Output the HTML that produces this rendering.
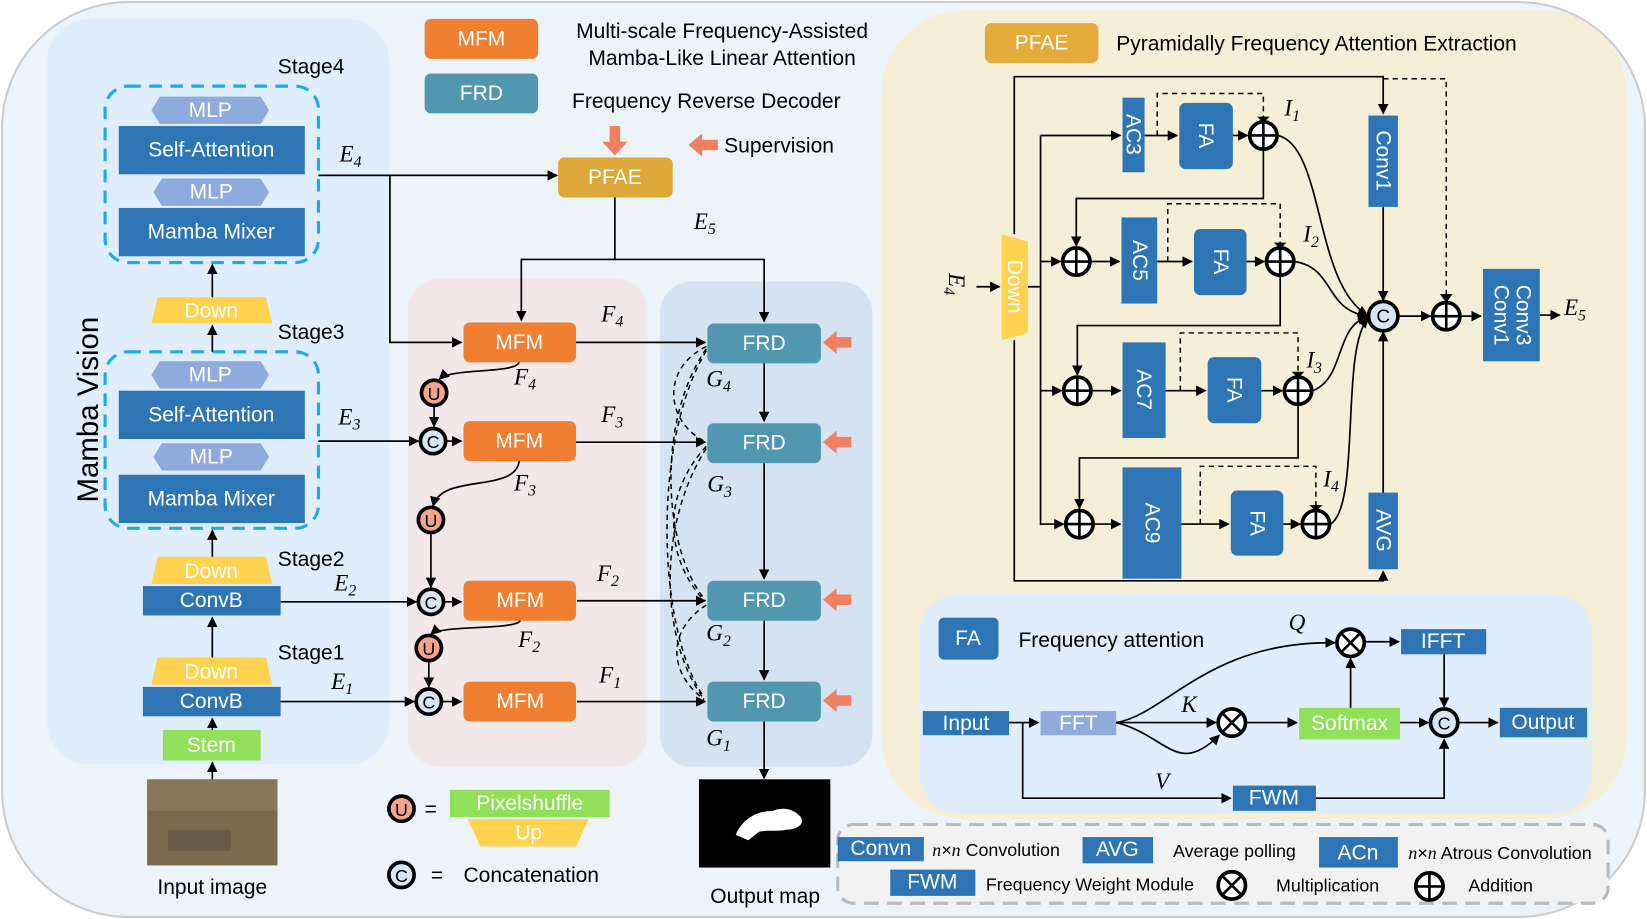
<!DOCTYPE html>
<html><head><meta charset="utf-8"><style>
html,body{margin:0;padding:0;background:#fff;}
svg{display:block;}
text{font-family:"Liberation Sans",sans-serif;}
.w{fill:#fff;font-size:20px;text-anchor:middle;dominant-baseline:central;}
.k{fill:#000;font-size:20px;}
.m{font-family:"Liberation Serif",serif;font-style:italic;font-size:22px;fill:#000;}
.ln{stroke:#000;stroke-width:1.6;fill:none;}
.ds{stroke:#000;stroke-width:1.4;fill:none;stroke-dasharray:5 4;}
</style></head><body>
<svg width="1647" height="919" viewBox="0 0 1567 875" preserveAspectRatio="none" xmlns="http://www.w3.org/2000/svg">
<defs>
<marker id="a" markerWidth="10" markerHeight="10" refX="9" refY="5" orient="auto" markerUnits="userSpaceOnUse"><path d="M0,0 L10,5 L0,10 z" fill="#000"/></marker>
<g id="plus"><circle r="13" fill="#fff" stroke="#000" stroke-width="3.5"/><path d="M-13,0H13M0,-13V13" stroke="#000" stroke-width="2.5"/></g>
<g id="times"><circle r="13" fill="#fff" stroke="#000" stroke-width="3.5"/><path d="M-9,-9L9,9M9,-9L-9,9" stroke="#000" stroke-width="2.5"/></g>
<g id="cc"><circle r="12" fill="#d6e6f5" stroke="#000" stroke-width="3.5"/><text y="1" font-size="17" text-anchor="middle" dominant-baseline="central" fill="#000">C</text></g>
<g id="uu"><circle r="12" fill="#f4a58c" stroke="#000" stroke-width="3.5"/><text y="1" font-size="17" text-anchor="middle" dominant-baseline="central" fill="#000">U</text></g>
</defs>
<rect x="0" y="0" width="1567" height="875" fill="#fff"/>
<rect x="2" y="2" width="1563" height="871" rx="120" fill="#edf4f9" stroke="#ccc" stroke-width="2"/>
<rect x="45" y="18" width="325" height="710" rx="40" fill="#dfedfc"/>
<rect x="388" y="265" width="228" height="465" rx="30" fill="#f2e8ea"/>
<rect x="628" y="268" width="202" height="462" rx="30" fill="#d5e2f1"/>
<rect x="838" y="10" width="710" height="770" rx="80" fill="#f5efd8"/>
<rect x="875" y="565" width="640" height="210" rx="40" fill="#dfedfc"/>
<rect x="797" y="785" width="733" height="75" rx="15" fill="#f2f2f2" stroke="#bbb" stroke-width="3" stroke-dasharray="14 8"/>

<text x="84" y="390" font-size="28" transform="rotate(-90 84 390)" text-anchor="middle" dominant-baseline="central">Mamba Vision</text>
<rect x="100" y="82" width="203" height="168" rx="22" fill="none" stroke="#1eaaea" stroke-width="3" stroke-dasharray="12 8"/>
<rect x="100" y="335" width="203" height="168" rx="22" fill="none" stroke="#1eaaea" stroke-width="3" stroke-dasharray="12 8"/>
<g>
<polygon points="152,92 248,92 256,105 248,118 152,118 144,105" fill="#8faadc"/><text class="w" x="200" y="105">MLP</text>
<rect x="113" y="120" width="177" height="46" fill="#2e75b6"/><text class="w" x="201" y="143">Self-Attention</text>
<polygon points="154,170 248,170 256,183 248,196 154,196 146,183" fill="#8faadc"/><text class="w" x="201" y="183">MLP</text>
<rect x="113" y="198" width="177" height="46" fill="#2e75b6"/><text class="w" x="201" y="221">Mamba Mixer</text>
</g>
<g>
<polygon points="152,344 248,344 256,357 248,370 152,370 144,357" fill="#8faadc"/><text class="w" x="200" y="357">MLP</text>
<rect x="113" y="372" width="177" height="46" fill="#2e75b6"/><text class="w" x="201" y="395">Self-Attention</text>
<polygon points="154,422 248,422 256,435 248,448 154,448 146,435" fill="#8faadc"/><text class="w" x="201" y="435">MLP</text>
<rect x="113" y="452" width="177" height="46" fill="#2e75b6"/><text class="w" x="201" y="475">Mamba Mixer</text>
</g>
<polygon points="150,283 253,283 259,308 144,308" fill="#ffd24f"/><text class="w" x="201" y="296">Down</text>
<polygon points="150,530 253,530 259,556 144,556" fill="#ffd24f"/><text class="w" x="201" y="544">Down</text>
<rect x="136" y="558" width="131" height="28" fill="#2e75b6"/><text class="w" x="201" y="572">ConvB</text>
<polygon points="150,626 253,626 259,652 144,652" fill="#ffd24f"/><text class="w" x="201" y="640">Down</text>
<rect x="136" y="654" width="131" height="28" fill="#2e75b6"/><text class="w" x="201" y="668">ConvB</text>
<rect x="155" y="695" width="93" height="29" fill="#92e05a"/><text class="w" x="201" y="710">Stem</text>
<rect x="140" y="742" width="124" height="82" fill="#7a6a4e"/>
<rect x="140" y="742" width="124" height="30" fill="#8c7d5c" opacity="0.7"/>
<rect x="160" y="790" width="60" height="20" fill="#5d5040" opacity="0.6"/>
<text class="k" x="202" y="851" text-anchor="middle">Input image</text>
<text class="k" x="296" y="70" text-anchor="middle">Stage4</text>
<text class="k" x="296" y="323" text-anchor="middle">Stage3</text>
<text class="k" x="296" y="539" text-anchor="middle">Stage2</text>
<text class="k" x="296" y="628" text-anchor="middle">Stage1</text>
<path class="ln" d="M202,742V726" marker-end="url(#a)"/>
<path class="ln" d="M202,695V684" marker-end="url(#a)"/>
<path class="ln" d="M202,626V588" marker-end="url(#a)"/>
<path class="ln" d="M202,530V505" marker-end="url(#a)"/>
<path class="ln" d="M202,335V310" marker-end="url(#a)"/>
<path class="ln" d="M202,283V252" marker-end="url(#a)"/>

<path class="ln" d="M303,167H530" marker-end="url(#a)"/>
<path class="ln" d="M371,167V326H439" marker-end="url(#a)"/>
<path class="ln" d="M303,420H398" marker-end="url(#a)"/>
<path class="ln" d="M267,573H396" marker-end="url(#a)"/>
<path class="ln" d="M267,668H394" marker-end="url(#a)"/>
<text class="m" x="323" y="154">E<tspan font-size="15" dy="5">4</tspan></text>
<text class="m" x="322" y="404">E<tspan font-size="15" dy="5">3</tspan></text>
<text class="m" x="318" y="562">E<tspan font-size="15" dy="5">2</tspan></text>
<text class="m" x="315" y="656">E<tspan font-size="15" dy="5">1</tspan></text>

<rect x="404" y="18" width="108" height="38" rx="6" fill="#f07f32"/><text class="w" x="458" y="37">MFM</text>
<rect x="404" y="70" width="108" height="38" rx="6" fill="#5297b0"/><text class="w" x="458" y="89">FRD</text>
<text class="k" x="687" y="36" text-anchor="middle">Multi-scale Frequency-Assisted</text>
<text class="k" x="687" y="62" text-anchor="middle">Mamba-Like Linear Attention</text>
<text class="k" x="672" y="103" text-anchor="middle">Frequency Reverse Decoder</text>
<polygon points="655,138 668,127 668,133 683,133 683,143 668,143 668,149" fill="#f08060"/>
<text class="k" x="689" y="145">Supervision</text>
<polygon points="580,120 590,120 590,135 597,135 585,148 573,135 580,135" fill="#f08060"/>
<rect x="531" y="150" width="109" height="38" rx="6" fill="#dda73a"/><text class="w" x="585" y="169">PFAE</text>
<path class="ln" d="M585,188V247H496V305" marker-end="url(#a)"/>
<path class="ln" d="M585,247H727V306" marker-end="url(#a)"/>
<text class="m" x="660" y="218">E<tspan font-size="15" dy="5">5</tspan></text>

<g>
<rect x="441" y="307" width="107" height="38" rx="6" fill="#f07f32"/><text class="w" x="494" y="326">MFM</text>
<rect x="441" y="401" width="107" height="38" rx="6" fill="#f07f32"/><text class="w" x="494" y="420">MFM</text>
<rect x="441" y="553" width="107" height="38" rx="6" fill="#f07f32"/><text class="w" x="495" y="572">MFM</text>
<rect x="441" y="649" width="107" height="38" rx="6" fill="#f07f32"/><text class="w" x="495" y="668">MFM</text>
<rect x="673" y="308" width="108" height="38" rx="6" fill="#5297b0"/><text class="w" x="727" y="327">FRD</text>
<rect x="673" y="403" width="108" height="38" rx="6" fill="#5297b0"/><text class="w" x="727" y="422">FRD</text>
<rect x="673" y="553" width="108" height="38" rx="6" fill="#5297b0"/><text class="w" x="727" y="572">FRD</text>
<rect x="673" y="649" width="108" height="38" rx="6" fill="#5297b0"/><text class="w" x="727" y="668">FRD</text>
</g>
<path class="ln" d="M548,326H671" marker-end="url(#a)"/>
<path class="ln" d="M548,421H671" marker-end="url(#a)"/>
<path class="ln" d="M549,572H671" marker-end="url(#a)"/>
<path class="ln" d="M549,668H671" marker-end="url(#a)"/>
<path class="ln" d="M727,346V401" marker-end="url(#a)"/>
<path class="ln" d="M727,441V551" marker-end="url(#a)"/>
<path class="ln" d="M727,591V647" marker-end="url(#a)"/>
<path class="ln" d="M727,687V741" marker-end="url(#a)"/>
<g fill="#f08060">
<polygon points="783,326 796,315 796,321 810,321 810,331 796,331 796,337"/>
<polygon points="783,421 796,410 796,416 810,416 810,426 796,426 796,432"/>
<polygon points="783,571 796,560 796,566 810,566 810,576 796,576 796,582"/>
<polygon points="783,667 796,656 796,662 810,662 810,672 796,672 796,678"/>
</g>
<g class="ds">
<path d="M672,330C630,350 632,400 670,420"/>
<path d="M672,332C625,400 630,520 670,570"/>
<path d="M672,334C620,420 625,600 670,664"/>
<path d="M672,425C630,470 632,530 670,572"/>
<path d="M672,427C625,500 628,610 670,666"/>
<path d="M672,576C635,600 635,640 670,666"/>
</g>
<text class="m" x="572" y="306">F<tspan font-size="15" dy="5">4</tspan></text>
<text class="m" x="572" y="402">F<tspan font-size="15" dy="5">3</tspan></text>
<text class="m" x="568" y="553">F<tspan font-size="15" dy="5">2</tspan></text>
<text class="m" x="570" y="650">F<tspan font-size="15" dy="5">1</tspan></text>
<text class="m" x="489" y="366">F<tspan font-size="15" dy="5">4</tspan></text>
<text class="m" x="489" y="467">F<tspan font-size="15" dy="5">3</tspan></text>
<text class="m" x="493" y="616">F<tspan font-size="15" dy="5">2</tspan></text>
<text class="m" x="672" y="368">G<tspan font-size="15" dy="5">4</tspan></text>
<text class="m" x="673" y="468">G<tspan font-size="15" dy="5">3</tspan></text>
<text class="m" x="672" y="610">G<tspan font-size="15" dy="5">2</tspan></text>
<text class="m" x="672" y="710">G<tspan font-size="15" dy="5">1</tspan></text>
<path class="ln" d="M494,345C490,356 430,350 418,361" marker-end="url(#a)"/>
<path class="ln" d="M494,439C490,470 420,450 412,482" marker-end="url(#a)"/>
<path class="ln" d="M495,591C490,600 420,595 410,604" marker-end="url(#a)"/>
<path class="ln" d="M413,387V406" marker-end="url(#a)"/>
<path class="ln" d="M410,508V559" marker-end="url(#a)"/>
<path class="ln" d="M408,630V654" marker-end="url(#a)"/>
<path class="ln" d="M425,420H439" marker-end="url(#a)"/>
<path class="ln" d="M423,573H439" marker-end="url(#a)"/>
<path class="ln" d="M421,668H439" marker-end="url(#a)"/>
<use href="#uu" x="413" y="374"/><use href="#cc" x="412" y="420"/>
<use href="#uu" x="410" y="495"/><use href="#cc" x="410" y="573"/>
<use href="#uu" x="408" y="617"/><use href="#cc" x="408" y="668"/>
<rect x="665" y="742" width="125" height="84" fill="#000"/>
<path d="M700,795C705,782 718,772 735,772C745,768 755,770 762,778C766,785 758,790 748,790C738,792 730,790 722,792L712,800L705,797Z" fill="#fff"/>
<text class="k" x="728" y="860" text-anchor="middle">Output map</text>
<use href="#uu" x="382" y="770"/><text class="k" x="404" y="777">=</text>
<rect x="428" y="752" width="152" height="26" fill="#92e05a"/><text class="w" x="504" y="765">Pixelshuffle</text>
<polygon points="445,780 560,780 548,806 457,806" fill="#ffd24f"/><text class="w" x="503" y="793">Up</text>
<use href="#cc" x="382" y="833"/><text class="k" x="410" y="840">=</text><text class="k" x="441" y="840">Concatenation</text>

<rect x="937" y="22" width="108" height="38" rx="6" fill="#e5ab3a"/><text class="w" x="991" y="41">PFAE</text>
<text class="k" x="1062" y="48">Pyramidally Frequency Attention Extraction</text>
<path class="ln" d="M965,223V73H1316V108" marker-end="url(#a)"/>
<path class="ln" d="M965,324V553H1316V544" marker-end="url(#a)"/>
<path class="ds" d="M1316,75H1376V285"/>
<path d="M1370,280L1376,288L1382,280Z" fill="#000"/>
<path class="ln" d="M929,273H951" marker-end="url(#a)"/>
<text class="m" x="895" y="268" transform="rotate(90 903 268)">E<tspan font-size="15" dy="5">4</tspan></text>
<polygon points="953,223 978,230 978,317 953,324" fill="#ffd24f"/>
<text class="w" x="965" y="273" font-size="16" transform="rotate(90 965 273)">Down</text>
<path class="ln" d="M978,273H990M990,129V500"/>
<path class="ln" d="M990,129H1066" marker-end="url(#a)"/>
<path class="ln" d="M990,249H1009" marker-end="url(#a)"/>
<path class="ln" d="M990,372H1010" marker-end="url(#a)"/>
<path class="ln" d="M990,499H1012" marker-end="url(#a)"/>
<rect x="1068" y="93" width="21" height="71" fill="#2e75b6"/><text class="w" x="1078" y="128" font-size="15" transform="rotate(90 1078 128)">AC3</text>
<rect x="1122" y="98" width="51" height="63" rx="6" fill="#2e75b6"/><text class="w" x="1147" y="129" font-size="17" transform="rotate(90 1147 129)">FA</text>
<rect x="1067" y="207" width="34" height="82" fill="#2e75b6"/><text class="w" x="1084" y="248" font-size="17" transform="rotate(90 1084 248)">AC5</text>
<rect x="1136" y="218" width="50" height="63" rx="6" fill="#2e75b6"/><text class="w" x="1161" y="249" font-size="17" transform="rotate(90 1161 249)">FA</text>
<rect x="1068" y="326" width="41" height="91" fill="#2e75b6"/><text class="w" x="1088" y="371" font-size="17" transform="rotate(90 1088 371)">AC7</text>
<rect x="1149" y="340" width="51" height="63" rx="6" fill="#2e75b6"/><text class="w" x="1174" y="371" font-size="17" transform="rotate(90 1174 371)">FA</text>
<rect x="1068" y="445" width="56" height="106" fill="#2e75b6"/><text class="w" x="1096" y="498" font-size="17" transform="rotate(90 1096 498)">AC9</text>
<rect x="1171" y="467" width="50" height="62" rx="6" fill="#2e75b6"/><text class="w" x="1196" y="498" font-size="17" transform="rotate(90 1196 498)">FA</text>
<rect x="1302" y="110" width="28" height="87" fill="#2e75b6"/><text class="w" x="1316" y="153" font-size="16" transform="rotate(90 1316 153)">Conv1</text>
<rect x="1302" y="469" width="28" height="73" fill="#2e75b6"/><text class="w" x="1316" y="505" font-size="16" transform="rotate(90 1316 505)">AVG</text>
<rect x="1411" y="256" width="54" height="88" fill="#2e75b6"/>
<text class="w" x="1449" y="300" font-size="16" transform="rotate(90 1449 300)">Conv3</text>
<text class="w" x="1428" y="300" font-size="16" transform="rotate(90 1428 300)">Conv1</text>
<path class="ln" d="M1089,129H1120" marker-end="url(#a)"/>
<path class="ln" d="M1173,129H1187" marker-end="url(#a)"/>
<path class="ln" d="M1038,249H1065" marker-end="url(#a)"/>
<path class="ln" d="M1101,249H1134" marker-end="url(#a)"/>
<path class="ln" d="M1186,249H1203" marker-end="url(#a)"/>
<path class="ln" d="M1039,372H1066" marker-end="url(#a)"/>
<path class="ln" d="M1109,372H1147" marker-end="url(#a)"/>
<path class="ln" d="M1200,372H1220" marker-end="url(#a)"/>
<path class="ln" d="M1041,499H1066" marker-end="url(#a)"/>
<path class="ln" d="M1124,499H1169" marker-end="url(#a)"/>
<path class="ln" d="M1221,499H1237" marker-end="url(#a)"/>
<path class="ln" d="M1202,143V189H1024V234" marker-end="url(#a)"/>
<path class="ln" d="M1218,263V310H1025V357" marker-end="url(#a)"/>
<path class="ln" d="M1235,386V436H1027V484" marker-end="url(#a)"/>
<path class="ds" d="M1101,129V89H1202V114"/>
<path class="ds" d="M1111,249V194H1218V234"/>
<path class="ds" d="M1123,372V317H1235V357"/>
<path class="ds" d="M1142,499V444H1252V484"/>
<g fill="#000"><path d="M1196,111L1202,117L1208,111Z"/><path d="M1212,231L1218,237L1224,231Z"/><path d="M1229,354L1235,360L1241,354Z"/><path d="M1246,481L1252,487L1258,481Z"/></g>
<path class="ln" d="M1216,129C1260,140 1250,270 1301,300" marker-end="url(#a)"/>
<path class="ln" d="M1232,249C1270,255 1260,295 1301,301" marker-end="url(#a)"/>
<path class="ln" d="M1249,372C1280,360 1270,310 1301,302" marker-end="url(#a)"/>
<path class="ln" d="M1266,499C1295,480 1275,330 1302,303" marker-end="url(#a)"/>
<path class="ln" d="M1316,197V286" marker-end="url(#a)"/>
<path class="ln" d="M1316,469V316" marker-end="url(#a)"/>
<path class="ln" d="M1331,301H1361" marker-end="url(#a)"/>
<path class="ln" d="M1390,301H1409" marker-end="url(#a)"/>
<path class="ln" d="M1465,300H1484" marker-end="url(#a)"/>
<text class="m" x="1488" y="300">E<tspan font-size="15" dy="5">5</tspan></text>
<use href="#plus" x="1202" y="129"/><use href="#plus" x="1218" y="249"/><use href="#plus" x="1235" y="372"/><use href="#plus" x="1252" y="499"/>
<use href="#plus" x="1024" y="249"/><use href="#plus" x="1025" y="372"/><use href="#plus" x="1027" y="499"/>
<use href="#plus" x="1376" y="301"/>
<g><circle cx="1316" cy="301" r="14" fill="#d6e6f5" stroke="#000" stroke-width="3.5"/><text x="1316" y="302" font-size="18" text-anchor="middle" dominant-baseline="central">C</text></g>
<text class="m" x="1222" y="110">I<tspan font-size="15" dy="5">1</tspan></text>
<text class="m" x="1240" y="230">I<tspan font-size="15" dy="5">2</tspan></text>
<text class="m" x="1243" y="350">I<tspan font-size="15" dy="5">3</tspan></text>
<text class="m" x="1259" y="463">I<tspan font-size="15" dy="5">4</tspan></text>

<rect x="893" y="588" width="57" height="40" rx="5" fill="#2e75b6"/><text class="w" x="921" y="608" font-size="18">FA</text>
<text class="k" x="969" y="616">Frequency attention</text>
<rect x="878" y="677" width="82" height="23" fill="#2e75b6"/><text class="w" x="919" y="689" font-size="17">Input</text>
<rect x="990" y="677" width="72" height="23" fill="#8faadc"/><text class="w" x="1026" y="689" font-size="17">FFT</text>
<rect x="1236" y="674" width="96" height="30" fill="#92e05a"/><text class="w" x="1284" y="689" font-size="17">Softmax</text>
<rect x="1333" y="599" width="81" height="24" fill="#2e75b6"/><text class="w" x="1373" y="611" font-size="17">IFFT</text>
<rect x="1427" y="674" width="83" height="28" fill="#2e75b6"/><text class="w" x="1468" y="688" font-size="17">Output</text>
<rect x="1173" y="748" width="79" height="24" fill="#2e75b6"/><text class="w" x="1212" y="760" font-size="17">FWM</text>
<path class="ln" d="M960,688H988" marker-end="url(#a)"/>
<path class="ln" d="M973,688V760H1171" marker-end="url(#a)"/>
<path class="ln" d="M1252,760H1374V704" marker-end="url(#a)"/>
<path class="ln" d="M1062,688C1110,680 1150,610 1270,612" marker-end="url(#a)"/>
<path class="ln" d="M1062,688H1157" marker-end="url(#a)"/>
<path class="ln" d="M1062,688C1110,700 1120,740 1160,700" marker-end="url(#a)"/>
<path class="ln" d="M1186,688H1234" marker-end="url(#a)"/>
<path class="ln" d="M1285,674V627" marker-end="url(#a)"/>
<path class="ln" d="M1299,611H1331" marker-end="url(#a)"/>
<path class="ln" d="M1374,623V673" marker-end="url(#a)"/>
<path class="ln" d="M1332,688H1359" marker-end="url(#a)"/>
<path class="ln" d="M1388,688H1425" marker-end="url(#a)"/>
<use href="#times" x="1172" y="688"/><use href="#times" x="1285" y="612"/>
<g><circle cx="1374" cy="688" r="13" fill="#d6e6f5" stroke="#000" stroke-width="3.5"/><text x="1374" y="689" font-size="17" text-anchor="middle" dominant-baseline="central">C</text></g>
<text class="m" x="1226" y="600">Q</text>
<text class="m" x="1124" y="678">K</text>
<text class="m" x="1099" y="751">V</text>

<rect x="797" y="797" width="82" height="23" fill="#2e75b6"/><text class="w" x="838" y="808" font-size="17">Convn</text>
<text x="887" y="815" font-size="17"><tspan font-family="Liberation Serif" font-style="italic">n</tspan>×<tspan font-family="Liberation Serif" font-style="italic">n</tspan> Convolution</text>
<rect x="1030" y="797" width="67" height="25" fill="#2e75b6"/><text class="w" x="1063" y="809" font-size="17">AVG</text>
<text x="1116" y="816" font-size="17">Average polling</text>
<rect x="1255" y="797" width="75" height="29" fill="#2e75b6"/><text class="w" x="1292" y="812" font-size="17">ACn</text>
<text x="1340" y="818" font-size="17"><tspan font-family="Liberation Serif" font-style="italic">n</tspan>×<tspan font-family="Liberation Serif" font-style="italic">n</tspan> Atrous Convolution</text>
<rect x="847" y="828" width="81" height="25" fill="#2e75b6"/><text class="w" x="887" y="840" font-size="17">FWM</text>
<text x="938" y="848" font-size="17">Frequency Weight Module</text>
<use href="#times" x="1172" y="843"/>
<text x="1214" y="849" font-size="17">Multiplication</text>
<use href="#plus" x="1360" y="844"/>
<text x="1397" y="849" font-size="17">Addition</text>
</svg>
</body></html>
